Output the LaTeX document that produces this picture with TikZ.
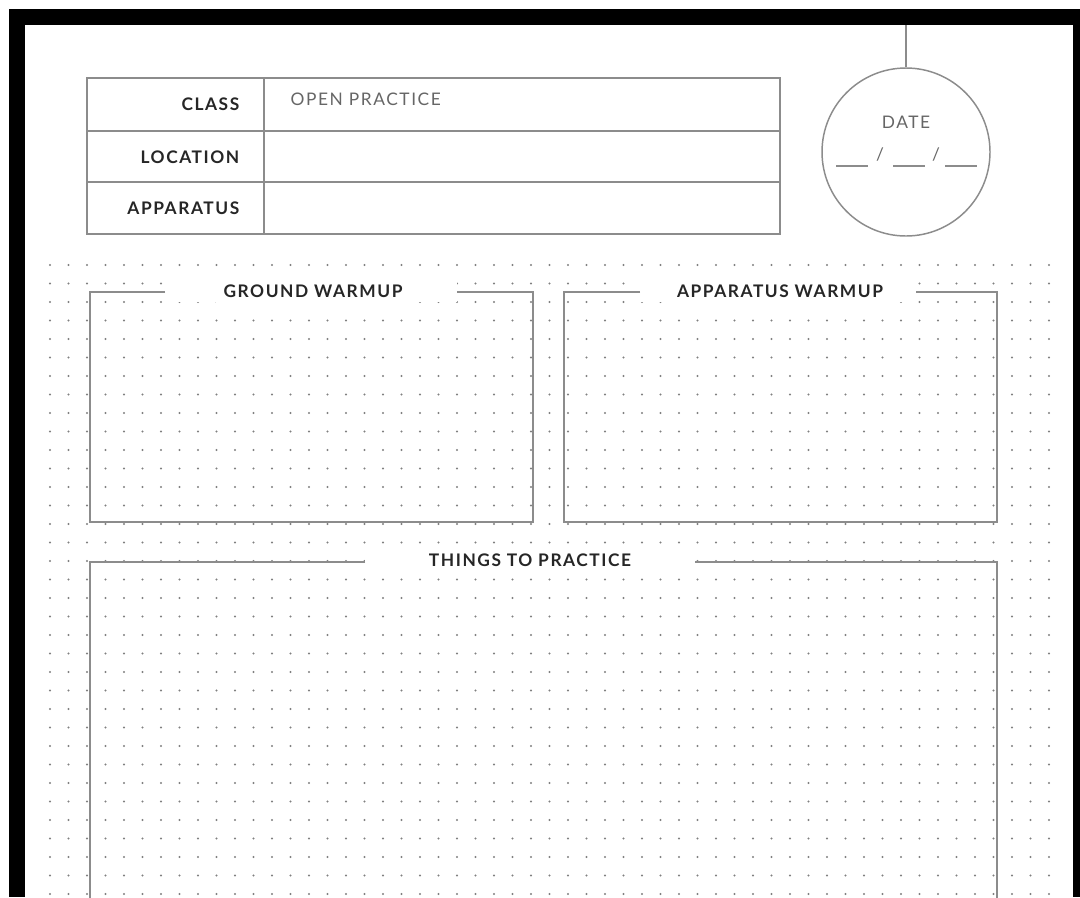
\documentclass[tikz,border=0pt]{standalone}
\usepackage{fontspec}
\setmainfont{Lato}
\newfontfamily\hdfont[LetterSpace=9]{Lato}
\begin{document}
\begin{tikzpicture}[x=0.75pt,y=-0.75pt,
  ln/.style={draw=black!45,line width=1.1pt},
  lab/.style={font=\fontsize{13}{15}\hdfont\bfseries,text=black!85,anchor=east},
  head/.style={font=\fontsize{13}{15}\hdfont\bfseries,text=black!85,fill=white,inner xsep=6pt,inner ysep=5pt},
  gtxt/.style={font=\fontsize{13}{15}\hdfont,text=black!60}]
\useasboundingbox (0,0) rectangle (1080,897);
\fill[white] (0,0) rectangle (1080,897);
\fill[black] (9,9) rectangle (1080,897);
\fill[white] (25,25) rectangle (1073,897);
% dots
\foreach \i in {0,...,54}{\foreach \j in {0,...,34}{
  \fill[black!50] (50+18.5*\i,265+18.5*\j) circle (1.1);}}
% table
\draw[ln] (87,78) rectangle (780,234);
\draw[ln] (87,131) -- (780,131) (87,182) -- (780,182) (264,78) -- (264,234);
\node[lab] (cl) at (244,104) {CLASS};
\node[lab] (lo) at (244,157) {LOCATION};
\node[lab] (ap) at (244,208) {APPARATUS};
\node[gtxt,anchor=west] (op) at (286,99) {OPEN PRACTICE};
% date
\node[circle,ln,minimum size=168pt*0.75] (dc) at (906,152) {};
\coordinate (dtop) at (906,25);
\draw[ln] (dtop) -- (dc.north);
\node[gtxt] (dt) at (906,122) {DATE};
\draw[ln] (836,166) -- (868,166) (893,166) -- (925,166) (945,166) -- (977,166);
\node[gtxt] (s1) at (880,155) {/};
\node[gtxt] (s2) at (936,155) {/};
% boxes
\fill[white] (165,280) rectangle (457,302);
\fill[white] (640,280) rectangle (916,302);
\fill[white] (365,550) rectangle (695,572);
\draw[ln] (165,292) -- (90,292) -- (90,522) -- (533,522) -- (533,292) -- (457,292);
\draw[ln] (640,292) -- (564,292) -- (564,522) -- (997,522) -- (997,292) -- (916,292);
\draw[ln] (365,562) -- (90,562) -- (90,900);
\draw[ln] (695,562) -- (997,562) -- (997,900);
\node[head] (gw) at (313,291) {GROUND WARMUP};
\node[head] (aw) at (780,291) {APPARATUS WARMUP};
\node[head] (tp) at (530,560) {THINGS TO PRACTICE};
\end{tikzpicture}
\end{document}
